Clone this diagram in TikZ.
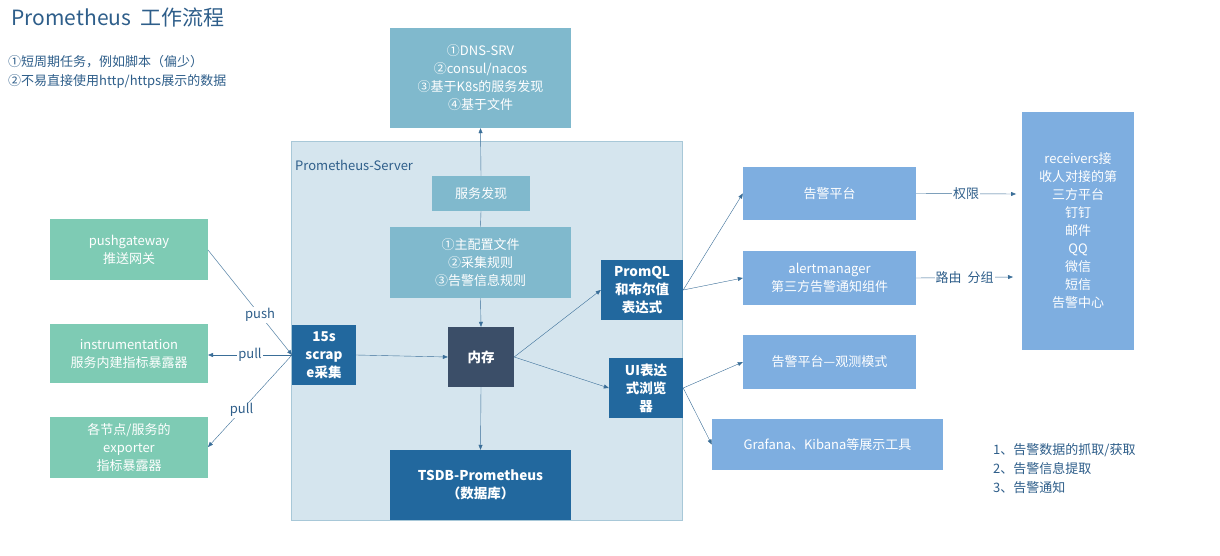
\documentclass[tikz,border=0pt]{standalone}
\usepackage{fontspec}
\setmainfont{Noto Sans CJK SC}
\usetikzlibrary{arrows.meta}
\definecolor{srvbg}{HTML}{D5E5EE}
\definecolor{srvln}{HTML}{A8C8D8}
\definecolor{teal}{HTML}{80B9CD}
\definecolor{dk}{HTML}{22689E}
\definecolor{mem}{HTML}{3B4E68}
\definecolor{grn}{HTML}{7ECBB4}
\definecolor{blu}{HTML}{7EAEE0}
\definecolor{ln}{HTML}{3A6E98}
\definecolor{txt}{HTML}{2E5E8A}
\tikzset{
 box/.style={draw=none,inner sep=1pt,align=center,text=white,font=\fontsize{13}{18}\selectfont},
 tb/.style={box,fill=teal},
 db/.style={box,fill=dk,font=\bfseries\fontsize{13.5}{18}\selectfont},
 gb/.style={box,fill=grn},
 bb/.style={box,fill=blu},
 ar/.style={draw=ln,-{Triangle[length=5pt,width=4pt]}},
 lab/.style={text=txt,font=\fontsize{13}{15}\selectfont,fill=white,inner sep=1pt}
}
\newcommand{\bx}[6]{\node[#1,minimum width=#4-#2,minimum height=#5-#3] (#6) at ({(#2+#4)/2},{(#3+#5)/2})}
\begin{document}
\begin{tikzpicture}[x=1pt,y=-1pt]
\useasboundingbox (0,0) rectangle (1220,556);
\fill[white] (0,0) rectangle (1220,556);
\node[anchor=west,text=txt,font=\fontsize{21}{24}\selectfont] (title) at (8,18) {Prometheus\ \ 工作流程};
\node[anchor=north west,text=txt,align=left,font=\fontsize{13}{19}\selectfont,inner sep=0] (notes) at (8,55) {①短周期任务，例如脚本（偏少）\\②不易直接使用http/https展示的数据};
\node[draw=srvln,fill=srvbg,minimum width=391,minimum height=379,inner sep=0] (srv) at (486.5,330.5) {};
\node[anchor=west,text=txt,font=\fontsize{13}{15}\selectfont,inner sep=0] (srvl) at (295,165) {Prometheus-Server};
\bx{tb}{390}{28}{571}{128}{disc} {①DNS-SRV\\②consul/nacos\\③基于K8s的服务发现\\④基于文件};
\bx{tb}{432}{176}{530}{211}{sd} {服务发现};
\bx{tb}{390}{227}{571}{298}{cfg} {①主配置文件\\②采集规则\\③告警信息规则};
\bx{box,fill=mem,font=\bfseries\fontsize{13.5}{18}\selectfont}{448}{327}{514}{387}{mem} {内存};
\bx{db}{292}{325}{356}{385}{scr} {15s\\scrap\\e采集};
\bx{db}{390}{450}{571}{520}{tsdb} {TSDB-Prometheus\\（数据库）};
\bx{db}{601}{260}{683}{320}{pql} {PromQL\\和布尔值\\表达式};
\bx{db}{609}{358}{683}{418}{ui} {UI表达\\式浏览\\器};
\bx{gb}{50}{219}{208}{280}{pg} {pushgateway\\推送网关};
\bx{gb}{50}{324}{208}{383}{ins} {instrumentation\\服务内建指标暴露器};
\bx{gb}{50}{417}{208}{478}{exp} {各节点/服务的\\exporter\\指标暴露器};
\bx{bb}{743}{167}{916}{220}{alp} {告警平台};
\bx{bb}{743}{251}{916}{305}{am} {alertmanager\\第三方告警通知组件};
\bx{bb}{743}{335}{916}{389}{obs} {告警平台—观测模式};
\bx{bb}{712}{419}{943}{470}{gf} {Grafana、Kibana等展示工具};
\bx{bb}{1022}{112}{1134}{350}{rcv} {receivers接\\收人对接的第\\三方平台\\钉钉\\邮件\\QQ\\微信\\短信\\告警中心};
\node[anchor=north west,text=txt,align=left,font=\fontsize{13}{19}\selectfont,inner sep=0] (notes2) at (993,443) {1、告警数据的抓取/获取\\2、告警信息提取\\3、告警通知};
\coordinate (pgp) at (208,250);
\coordinate (insp) at (208,355);
\coordinate (expp) at (208,447);
\coordinate (scrp) at (292,355);
\draw[ar] (pgp) -- node[lab,pos=0.62]{push} (scrp);
\draw[ar] (scrp) -- node[lab]{pull} (insp);
\draw[ar] (scrp) -- node[lab,pos=0.6]{pull} (expp);
\draw[ar] (scr.east) -- (mem.west);
\draw[ar] (sd.north) -- (disc.south);
\draw[draw=ln] (sd.south) -- (cfg.north);
\draw[ar] (cfg.south) -- (mem.north);
\draw[ar] (mem.south) -- (tsdb.north);
\draw[ar] (mem.east) -- (pql.west);
\draw[ar] (mem.east) -- (ui.west);
\draw[ar] (pql.east) -- (alp.west);
\draw[ar] (pql.east) -- (am.west);
\draw[ar] (ui.east) -- (obs.west);
\draw[ar] (ui.east) -- (gf.west);
\coordinate (r1) at (1016,194);
\coordinate (r2) at (1013,277);
\draw[ar] (alp.east) -- node[lab]{权限} (r1);
\draw[ar] (am.east) -- node[lab]{路由\ \ 分组} (r2);
\end{tikzpicture}
\end{document}
